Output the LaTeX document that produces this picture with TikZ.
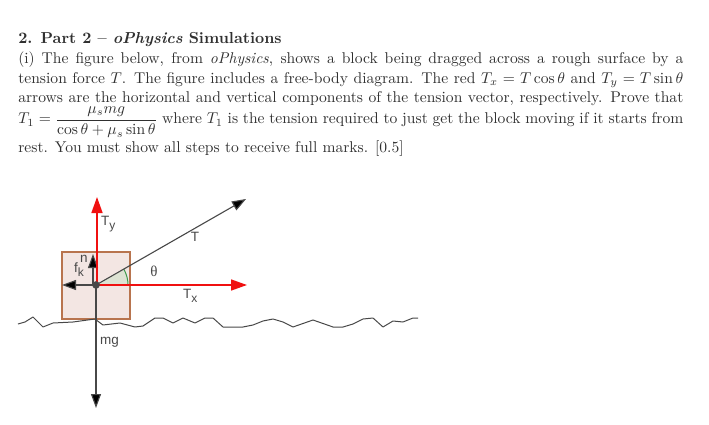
\documentclass[tikz,border=0pt]{standalone}
\usepackage{amsmath}
\usepackage{fontspec}
\usetikzlibrary{arrows.meta}
\newfontfamily\labfont{Liberation Sans}
\newfontfamily\thetafont{Liberation Serif}
\definecolor{bodyink}{HTML}{303030}
\definecolor{blockfill}{HTML}{F3E6E3}
\definecolor{blockedge}{HTML}{B8744E}
\definecolor{wedgefill}{HTML}{DDE3D3}
\definecolor{wedgeedge}{HTML}{3C9A4A}
\definecolor{forcered}{HTML}{F01010}
\definecolor{forcegrey}{HTML}{484848}
\newlength{\linew}\setlength{\linew}{426.3pt}
\tikzset{
  textline/.style={anchor=base west,inner sep=0pt,scale=1.56,text=bodyink},
  forcelabel/.style={inner sep=0pt,text=forcegrey,font=\labfont\fontsize{13.5}{15}\selectfont},
  redforce/.style={draw=forcered,line width=1.5pt,-{Triangle[length=16pt,width=11pt,fill=forcered]}},
  greyforce/.style={draw=forcegrey,line width=1.1pt,-{Triangle[length=14pt,width=10pt,fill=black]}},
  ground/.style={draw=forcegrey,line width=1pt,line join=round},
  blockbox/.style={draw=blockedge,fill=blockfill,line width=1.2pt,minimum width=68pt,minimum height=67pt,inner sep=0pt},
  pivot/.style={circle,fill=forcegrey,draw=black!70,line width=.5pt,minimum size=7pt,inner sep=0pt}
}
\begin{document}
\begin{tikzpicture}[x=1pt,y=-1pt]
\useasboundingbox (0,0) rectangle (709,425);
% text
\node[textline,scale=1.02] (title) at (18,44) {\textbf{2. Part 2 -- \textit{oPhysics} Simulations}};
\node[textline] (l1) at (18,64) {\makebox[\linew][s]{(i) The figure below, from \textit{oPhysics}, shows a block being dragged across a rough surface by a}};
\node[textline] (l2) at (18,83.5) {\makebox[\linew][s]{tension force $T$. The figure includes a free-body diagram. The red $T_x = T\cos\theta$ and $T_y = T\sin\theta$}};
\node[textline] (l3) at (18,103) {\makebox[\linew][s]{arrows are the horizontal and vertical components of the tension vector, respectively. Prove that}};
\node[textline] (l4) at (18,124) {\makebox[\linew][s]{$T_1 = \dfrac{\mu_s mg}{\cos\theta + \mu_s\sin\theta}$ where $T_1$ is the tension required to just get the block moving if it starts from}};
\node[textline] (l5) at (18,152) {rest. You must show all steps to receive full marks. [0.5]};
% block and coordinates
\node[blockbox] (block) at (96,285.5) {};
\coordinate (c) at (96,285);
\coordinate (tyEnd) at (97,197);
\coordinate (tyStart) at (97,285);
\coordinate (txEnd) at (247,285);
\coordinate (tEnd) at (246,199);
\coordinate (mgEnd) at (96,408);
\coordinate (nStart) at (93,285);
\coordinate (nEnd) at (93,254);
\coordinate (fkEnd) at (62,285);
% wedge
\fill[wedgefill] (c) -- (128,285) arc[start angle=0,end angle=-30,radius=32] -- cycle;
\draw[wedgeedge,line width=1pt] (128,285) arc[start angle=0,end angle=-30,radius=32];
% ground
\draw[ground] (18,324) -- (25,322) -- (33,317) -- (43,327) -- (53,323) -- (73,322) -- (95,319) -- (103,325) -- (120,323) -- (135,327) -- (143,326) -- (155,318) -- (163,318) -- (173,323) -- (183,318) -- (195,323) -- (205,318) -- (213,318) -- (223,327) -- (243,327) -- (253,325) -- (263,321) -- (273,319) -- (283,322) -- (293,327) -- (313,320) -- (333,327) -- (343,327) -- (353,324) -- (363,319) -- (373,318) -- (383,327) -- (393,321) -- (403,322) -- (413,318) -- (418,318);
% forces
\draw[greyforce] (c) -- (tEnd);
\draw[greyforce] (c) -- (mgEnd);
\draw[greyforce] (nStart) -- (nEnd);
\draw[greyforce] (c) -- (fkEnd);
\draw[redforce] (tyStart) -- (tyEnd);
\draw[redforce] (c) -- (txEnd);
\node[pivot] (dot) at (c) {};
% labels
\node[forcelabel,anchor=west] (ty) at (101,224) {T\raisebox{-4pt}{\fontsize{12}{13}\selectfont y}};
\node[forcelabel] (tl) at (195,237) {T};
\node[forcelabel,font=\thetafont\fontsize{15}{16}\selectfont] (th) at (154,271) {θ};
\node[forcelabel,anchor=west] (tx) at (183,296) {T\raisebox{-4pt}{\fontsize{12}{13}\selectfont x}};
\node[forcelabel] (nl) at (84,259) {n};
\node[forcelabel,anchor=west] (fk) at (74,270) {f\raisebox{-4pt}{\fontsize{12}{13}\selectfont k}};
\node[forcelabel,anchor=west] (mg) at (100,342) {mg};
\end{tikzpicture}
\end{document}
